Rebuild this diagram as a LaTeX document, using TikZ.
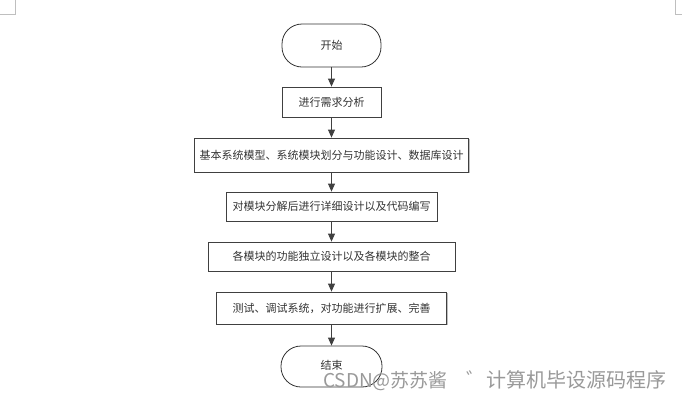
\documentclass[tikz,border=0pt]{standalone}
\usepackage{fontspec}
\setmainfont{Noto Sans CJK SC}
\usetikzlibrary{arrows.meta,shadows}
\begin{document}
\begin{tikzpicture}[x=1pt,y=-1pt,
  every node/.style={font=\fontsize{11}{13}\selectfont, text=black!80, inner sep=0pt},
  box/.style={draw=black!75, line width=0.8pt, fill=white,
    drop shadow={shadow xshift=1.2pt, shadow yshift=-1.2pt, fill=black!25, opacity=1}},
  term/.style={draw=black!80, line width=0.8pt, fill=white, rounded corners=20pt},
  arr/.style={-{Triangle[length=8pt,width=7pt]}, draw=black!75, line width=0.8pt},
  corner/.style={draw=black!25, line width=0.8pt},
  wmark/.style={font=\fontsize{19}{21}\selectfont, text=black!40}]
\useasboundingbox (0,0) rectangle (682,400);
% corner marks
\draw[corner] (0,14.5) -- (15,14.5) -- (15,0);
\draw[corner] (682,14.5) -- (675,14.5) -- (675,0);
% nodes
\node[term, minimum width=99pt, minimum height=43pt] (start) at (331.5,45.5) {开始};
\node[box, minimum width=99pt, minimum height=30pt] (b1) at (331.5,102) {进行需求分析};
\node[box, minimum width=274pt, minimum height=34pt] (b2) at (331.5,155) {基本系统模型、系统模块划分与功能设计、数据库设计};
\node[box, minimum width=211pt, minimum height=29pt] (b3) at (331.5,206.5) {对模块分解后进行详细设计以及代码编写};
\node[box, minimum width=247pt, minimum height=29pt] (b4) at (331.5,256.5) {各模块的功能独立设计以及各模块的整合};
\node[box, minimum width=230pt, minimum height=32pt] (b5) at (331.5,308) {测试、调试系统，对功能进行扩展、完善};
\node[term, minimum width=101pt, minimum height=41pt] (end) at (331.5,366.5) {\raisebox{3.5pt}{结束}};
% arrows
\draw[arr] (start) -- (b1);
\draw[arr] (b1) -- (b2);
\draw[arr] (b2) -- (b3);
\draw[arr] (b3) -- (b4);
\draw[arr] (b4) -- (b5);
\draw[arr] (b5) -- (end);
% watermark
\node[wmark, anchor=base west] (wm1) at (323,387) {CSDN@苏苏酱};
\node[wmark, font=\fontsize{20}{22}\selectfont, anchor=base east] (wm2) at (667,387) {゛计算机毕设源码程序};
\end{tikzpicture}
\end{document}
